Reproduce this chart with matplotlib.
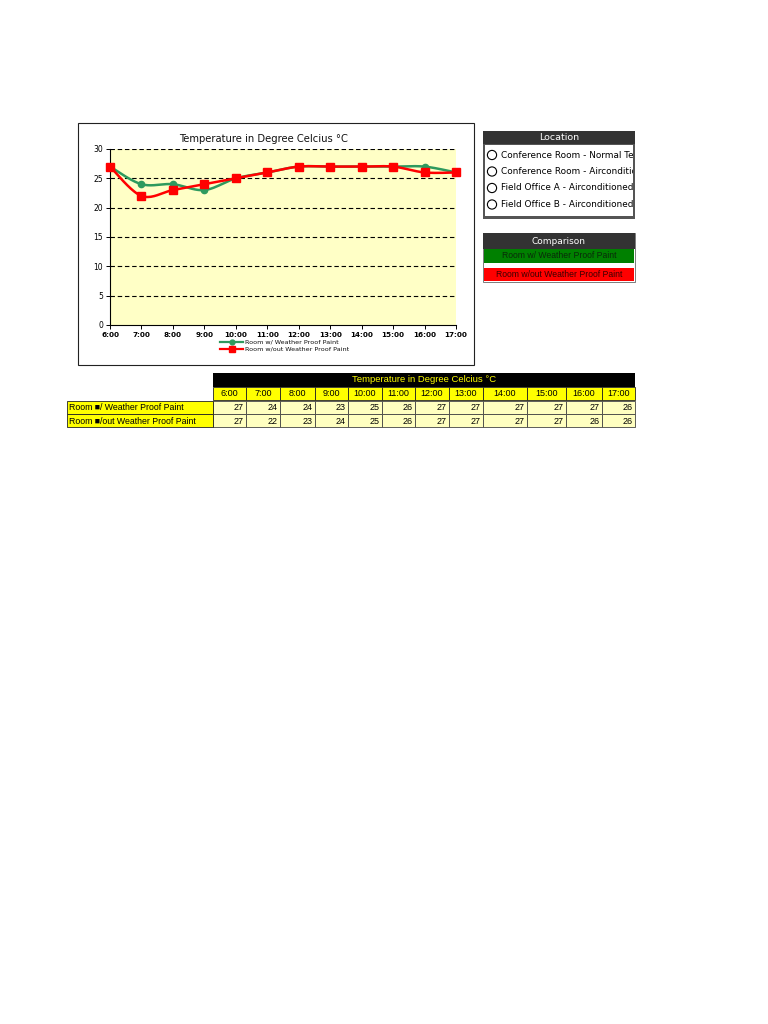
import numpy as np
import matplotlib

matplotlib.use("Agg")
import matplotlib.pyplot as plt
from matplotlib.patches import Rectangle, Circle

# --- data -------------------------------------------------------------------
hours = ["6:00", "7:00", "8:00", "9:00", "10:00", "11:00", "12:00", "13:00",
         "14:00", "15:00", "16:00", "17:00"]
with_paint = [27, 24, 24, 23, 25, 26, 27, 27, 27, 27, 27, 26]
without_paint = [27, 22, 23, 24, 25, 26, 27, 27, 27, 27, 26, 26]
series_names = ["Room w/ Weather Proof Paint", "Room w/out Weather Proof Paint"]
row_labels = ["Room \u25a0/ Weather Proof Paint", "Room \u25a0/out Weather Proof Paint"]
locations = ["Conference Room - Normal Temperature",
             "Conference Room - Airconditioned",
             "Field Office A - Airconditioned",
             "Field Office B - Airconditioned"]
title = "Temperature in Degree Celcius \u00b0C"

W, H = 768, 1024
C_GREEN = "#2E9A5E"
C_RED = "#FF0000"
PLOT_BG = "#FFFFC6"
CELL_BG = "#FFFFC0"
YELLOW = "#FFFF00"
DARK = "#333333"

fig = plt.figure(figsize=(W / 100, H / 100), dpi=100, facecolor="white")

# overlay axes in pixel coordinates (y down)
ov = fig.add_axes([0, 0, 1, 1])
ov.set_xlim(0, W)
ov.set_ylim(H, 0)
ov.axis("off")


def box(x0, y0, x1, y1, fc, ec="none", lw=0.8, z=1):
    ov.add_patch(Rectangle((x0, y0), x1 - x0, y1 - y0, facecolor=fc,
                           edgecolor=ec, linewidth=lw, zorder=z))


def smooth(xs, ys, n=20):
    # catmull-rom for drawing the "smoothed line" look
    xs = np.asarray(xs, float)
    ys = np.asarray(ys, float)
    px = np.concatenate([[xs[0]], xs, [xs[-1]]])
    py = np.concatenate([[ys[0]], ys, [ys[-1]]])
    ox, oy = [], []
    t = np.linspace(0, 1, n, endpoint=False)
    for i in range(1, len(px) - 2):
        for p, out in ((px, ox), (py, oy)):
            p0, p1, p2, p3 = p[i - 1], p[i], p[i + 1], p[i + 2]
            out.extend(0.5 * ((2 * p1) + (-p0 + p2) * t
                              + (2 * p0 - 5 * p1 + 4 * p2 - p3) * t ** 2
                              + (-p0 + 3 * p1 - 3 * p2 + p3) * t ** 3))
    ox.append(xs[-1])
    oy.append(ys[-1])
    return np.array(ox), np.array(oy)


# --- chart frame ------------------------------------------------------------
box(78, 123, 474, 365, "white", ec="#222222", lw=0.8)
ov.text(264, 139, title, ha="center", va="center", fontsize=7.2,
        color="#111111")

ax = fig.add_axes([110 / W, 1 - 325 / H, (456 - 110) / W, (325 - 149) / H])
ax.set_facecolor(PLOT_BG)
x = np.arange(len(hours))
ax.set_xlim(0, len(hours) - 1)
ax.set_ylim(0, 30)
for yv in range(5, 31, 5):
    ax.axhline(yv, color="black", ls=(0, (4, 2.5)), lw=0.8, zorder=1)
sx, sy = smooth(x, with_paint)
ax.plot(sx, sy, color=C_GREEN, lw=1.8, zorder=3, clip_on=False)
ax.plot(x, with_paint, "o", color=C_GREEN, ms=4.5, zorder=4, clip_on=False)
sx, sy = smooth(x, without_paint)
ax.plot(sx, sy, color=C_RED, lw=1.8, zorder=5, clip_on=False)
ax.plot(x, without_paint, "s", color=C_RED, ms=5.5, zorder=6, clip_on=False)
ax.set_xticks(x)
ax.set_xticklabels(hours, fontsize=5.2, fontweight="bold")
ax.set_yticks(range(0, 31, 5))
ax.tick_params(axis="y", labelsize=5.5, length=3, width=0.7, pad=2)
ax.tick_params(axis="x", length=3, width=0.7, pad=2)
for s in ("top", "right"):
    ax.spines[s].set_visible(False)
for s in ("left", "bottom"):
    ax.spines[s].set_linewidth(0.8)

# legend under the axis
for yy, name, col, mk, ms in ((342, series_names[0], C_GREEN, "o", 3.5),
                              (349, series_names[1], C_RED, "s", 4)):
    ov.plot([220, 243], [yy, yy], color=col, lw=1.6)
    ov.plot([231.5], [yy], mk, color=col, ms=ms)
    ov.text(245, yy, name, fontsize=4.6, va="center", ha="left",
            color="#111111")

# --- location list ----------------------------------------------------------
box(483, 131, 635, 219, "#555555")
box(483, 131, 635, 144, DARK)
ov.text(559, 137, "Location", color="white", fontsize=6.8, ha="center",
        va="center")
box(485, 145, 633, 216, "white")
clip = Rectangle((485, 145), 148, 71, transform=ov.transData)
for i, loc in enumerate(locations):
    yy = 155 + i * 16.5
    ov.add_patch(Circle((492, yy), 4.6, facecolor="white",
                        edgecolor="black", lw=0.8, zorder=3))
    t = ov.text(501, yy, loc, fontsize=6.4, va="center", ha="left",
                color="black", zorder=3)
    t.set_clip_path(clip)
    t.set_clip_on(True)

# --- comparison legend ------------------------------------------------------
box(483, 233, 635, 282, "white", ec="#666666", lw=0.6)
box(483, 233, 635, 249, DARK)
ov.text(559, 241, "Comparison", color="white", fontsize=6.5, ha="center",
        va="center")
box(484, 249, 634, 263, "#008000")
ov.text(559, 256, series_names[0], fontsize=6.2, ha="center", va="center",
        color="#0A2A0A", family="Liberation Sans")
box(484, 268, 634, 281, "#FF0000")
ov.text(559, 274.5, series_names[1], fontsize=6.2, ha="center", va="center",
        color="#3A0000", family="Liberation Sans")

# --- data table ---------------------------------------------------------------
edges = [213, 246, 280, 315, 348, 382, 415, 449, 483, 527, 566, 602, 635]
box(213, 373, 635, 387, "black")
ov.text(424, 380, title, color=YELLOW, fontsize=6.8, ha="center",
        va="center", family="Liberation Sans")
rows_y = [(387, 400), (401, 414), (414, 427)]
for j in range(len(hours)):
    x0, x1 = edges[j], edges[j + 1]
    y0, y1 = rows_y[0]
    box(x0, y0, x1, y1, YELLOW, ec="#222222", lw=0.6, z=2)
    ov.text((x0 + x1) / 2, (y0 + y1) / 2 + 0.5, hours[j], fontsize=6.5,
            ha="center", va="center", family="Liberation Sans", zorder=3)
    for r, vals in enumerate((with_paint, without_paint)):
        y0, y1 = rows_y[r + 1]
        box(x0, y0, x1, y1, CELL_BG, ec="#444444", lw=0.6, z=2)
        ov.text(x1 - 2, (y0 + y1) / 2 + 0.5, str(vals[j]), fontsize=6.5,
                ha="right", va="center", family="Liberation Sans", zorder=3)
for r, lab in enumerate(row_labels):
    y0, y1 = rows_y[r + 1]
    box(67, y0, 213, y1, YELLOW, ec="#222222", lw=0.6, z=2)
    ov.text(69, (y0 + y1) / 2 + 0.5, lab, fontsize=6.3, ha="left",
            va="center", family="Liberation Sans", zorder=3)

fig.savefig("out.png", dpi=100, facecolor="white")
